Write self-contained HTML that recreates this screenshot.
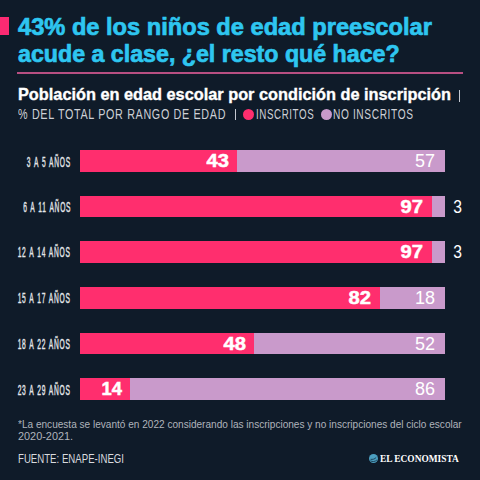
<!DOCTYPE html>
<html><head><meta charset="utf-8">
<style>
html,body{margin:0;padding:0;}
body{width:480px;height:480px;background:#0f1b29;position:relative;overflow:hidden;font-family:"Liberation Sans",sans-serif;}
.t{position:absolute;white-space:nowrap;line-height:1;transform-origin:0 0;}
.r{transform-origin:100% 0;}
.sq{position:absolute;left:0;top:16.6px;width:8.8px;height:18px;background:#fc2a72;}
.title{color:#2ec6f0;font-weight:bold;font-size:24px;-webkit-text-stroke:0.7px #2ec6f0;}
.rule{position:absolute;left:17px;top:72px;width:446px;height:2.2px;background:#b84f82;}
.sub{color:#fff;font-weight:bold;font-size:16.5px;-webkit-text-stroke:0.35px #fff;}
.leg{color:#cdd0d6;font-size:14.5px;letter-spacing:0.9px;}
.dot{position:absolute;width:11px;height:11px;border-radius:50%;}
.lab{color:#e4e6ea;font-size:14px;letter-spacing:1.6px;word-spacing:1px;-webkit-text-stroke:0.4px #e4e6ea;transform-origin:100% 0;}
.bar{position:absolute;left:80px;width:364.5px;height:21.6px;background:#c99acb;}
.pk{position:absolute;left:0;top:0;height:100%;background:#ff2e6e;}
.vb{color:#fff;font-weight:bold;font-size:18px;-webkit-text-stroke:0.5px #fff;transform-origin:100% 0;}
.vl{color:#fff;font-size:18px;transform-origin:100% 0;}
.fn{color:#b0b4bc;font-size:11px;}
.src{color:#d8dadf;font-size:12px;}
</style></head><body>
<div class="sq"></div>
<div id="t1" class="t title" style="left:18px;top:14.7px;transform:scaleX(0.985);">43% de los niños de edad preescolar</div>
<div id="t2" class="t title" style="left:18px;top:41.7px;transform:scaleX(0.9665);">acude a clase, ¿el resto qué hace?</div>
<div class="rule"></div>
<div id="sub" class="t sub" style="left:18px;top:85.5px;transform:scaleX(0.988);">Población en edad escolar por condición de inscripción</div>
<div style="position:absolute;left:459px;top:90px;width:1.3px;height:11.5px;background:#c4c8d0;"></div>
<div id="leg1" class="t leg" style="left:18px;top:106.7px;transform:scaleX(0.742);">% DEL TOTAL POR RANGO DE EDAD</div>
<div style="position:absolute;left:234.8px;top:109px;width:1.2px;height:10.5px;background:#c4c8d0;"></div>
<div class="dot" style="left:242.5px;top:109px;background:#ff2e6e;"></div>
<div id="leg2" class="t leg" style="left:255.8px;top:106.7px;transform:scaleX(0.671);">INSCRITOS</div>
<div class="dot" style="left:321px;top:109px;background:#c99acb;"></div>
<div id="leg3" class="t leg" style="left:332.9px;top:106.7px;transform:scaleX(0.699);">NO INSCRITOS</div>

<div id="l1" class="t lab" style="right:409.1px;top:154.5px;transform:scaleX(0.475);">3 A 5 AÑOS</div>
<div id="l2" class="t lab" style="right:409.1px;top:199.5px;transform:scaleX(0.475);">6 A 11 AÑOS</div>
<div id="l3" class="t lab" style="right:409.1px;top:245px;transform:scaleX(0.475);">12 A 14 AÑOS</div>
<div id="l4" class="t lab" style="right:409.1px;top:291px;transform:scaleX(0.475);">15 A 17 AÑOS</div>
<div id="l5" class="t lab" style="right:409.1px;top:336.5px;transform:scaleX(0.475);">18 A 22 AÑOS</div>
<div id="l6" class="t lab" style="right:409.1px;top:383px;transform:scaleX(0.475);">23 A 29 AÑOS</div>

<div class="bar" style="top:150px;"><div class="pk" style="width:157px;"></div></div>
<div class="bar" style="top:195.7px;"><div class="pk" style="width:352px;"></div></div>
<div class="bar" style="top:241.4px;"><div class="pk" style="width:352px;"></div></div>
<div class="bar" style="top:287px;"><div class="pk" style="width:299.5px;"></div></div>
<div class="bar" style="top:332.7px;"><div class="pk" style="width:173.5px;"></div></div>
<div class="bar" style="top:378.4px;"><div class="pk" style="width:50px;"></div></div>

<div id="v1" class="t vb" style="right:251px;top:151.6px;transform:scaleX(1.12);">43</div>
<div id="w1" class="t vl" style="right:45px;top:151.6px;">57</div>
<div id="v2" class="t vb" style="right:56.5px;top:197.6px;transform:scaleX(1.12);">97</div>
<div id="w2" class="t vl" style="left:451.8px;top:197.6px;transform:scaleX(0.87);">3</div>
<div id="v3" class="t vb" style="right:56.5px;top:243.1px;transform:scaleX(1.12);">97</div>
<div id="w3" class="t vl" style="left:451.8px;top:243.1px;transform:scaleX(0.87);">3</div>
<div id="v4" class="t vb" style="right:109px;top:289.1px;transform:scaleX(1.12);">82</div>
<div id="w4" class="t vl" style="right:45px;top:289.1px;">18</div>
<div id="v5" class="t vb" style="right:234px;top:334.6px;transform:scaleX(1.12);">48</div>
<div id="w5" class="t vl" style="right:45px;top:334.6px;">52</div>
<div id="v6" class="t vb" style="right:358.3px;top:380.1px;transform:scaleX(1.02);">14</div>
<div id="w6" class="t vl" style="right:45px;top:380.1px;">86</div>

<div id="fn1" class="t fn" style="left:18px;top:418.9px;transform:scaleX(0.915);">*La encuesta se levantó en 2022 considerando las inscripciones y no inscripciones del ciclo escolar</div>
<div id="fn2" class="t fn" style="left:18px;top:430.6px;transform:scaleX(0.99);">2020-2021.</div>
<div id="src" class="t src" style="left:18px;top:452.5px;transform:scaleX(0.803);">FUENTE: ENAPE-INEGI</div>

<div id="logo" style="position:absolute;left:368.6px;top:454px;width:92px;height:10px;">
<svg width="9" height="9" viewBox="0 0 9 9" style="position:absolute;left:0;top:0;"><circle cx="4.5" cy="4.5" r="4.5" fill="#4c9fc0"/><path d="M1.6 5.3 C3.5 5.6 5.8 5.2 7.2 3.4 M1.4 6.8 C3.4 8 6 7.8 7.9 6" stroke="#173a50" stroke-width="0.9" fill="none"/></svg>
<div id="lgt" class="t" style="left:11px;top:0px;color:#fff;font-family:'Liberation Serif',serif;font-weight:bold;font-size:10.5px;transform:scaleX(0.893);">EL ECONOMISTA</div>
</div>
</body></html>
